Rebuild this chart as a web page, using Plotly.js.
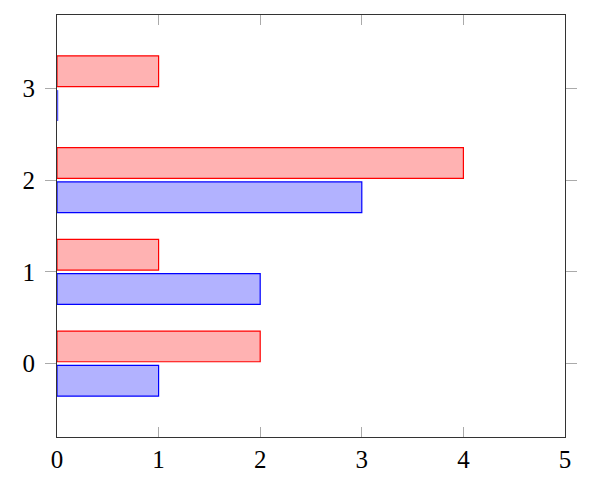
<!DOCTYPE html>
<html><head><meta charset="utf-8">
<script src="https://cdn.plot.ly/plotly-3.0.1.min.js"></script>
<style>html,body{margin:0;padding:0;background:#fff}#chart{width:595px;height:487px}</style>
</head><body><div id="chart"></div>
<script>
const categories = [0, 1, 2, 3];
const blueValues = [1, 2, 3, 0];
const redValues = [2, 1, 4, 1];
const xTicks = [0, 1, 2, 3, 4, 5];

const barW = 0.335;
const font = {family: '"Liberation Serif", serif', size: 25, color: '#000'};

const traces = [
  {type: 'bar', orientation: 'h', y: categories, x: blueValues, width: barW, offset: -0.355,
   marker: {color: 'rgb(178,178,255)', line: {color: 'rgb(0,0,255)', width: 1.2}}, hoverinfo: 'none'},
  {type: 'bar', orientation: 'h', y: categories, x: redValues, width: barW, offset: 0.02,
   marker: {color: 'rgb(255,178,178)', line: {color: 'rgb(255,0,0)', width: 1.2}}, hoverinfo: 'none'}
];
// zero-length bars are drawn as a thin edge line, as in the reference
blueValues.forEach((v, i) => {
  if (v === 0) {
    traces.push({type: 'scatter', mode: 'lines', x: [v, v], y: [categories[i] - 0.355, categories[i] - 0.02],
      line: {color: 'rgb(90,90,255)', width: 2.5}, hoverinfo: 'none', cliponaxis: false});
  }
});

const layout = {
  width: 595, height: 487,
  margin: {l: 57, r: 30, t: 15, b: 50},
  paper_bgcolor: '#fff', plot_bgcolor: '#fff',
  showlegend: false, font: font,
  xaxis: {range: [0, 5], tickvals: xTicks, ticktext: xTicks.map(String), showgrid: false, zeroline: false,
    showline: true, linecolor: '#333', linewidth: 1, mirror: 'ticks', ticks: 'inside', ticklen: 10,
    tickcolor: '#aaa', tickwidth: 1, ticklabelstandoff: 0, tickfont: font, layer: 'below traces'},
  yaxis: {range: [-0.8, 3.8], tickvals: categories, ticktext: categories.map(String), showgrid: false, zeroline: false,
    showline: true, linecolor: '#333', linewidth: 1, mirror: 'ticks', ticks: 'outside', ticklen: 11,
    tickcolor: '#aaa', tickwidth: 1, ticklabelstandoff: 5, tickfont: font, layer: 'below traces'}
};
Plotly.newPlot('chart', traces, layout, {displayModeBar: false, staticPlot: true});
</script></body></html>
